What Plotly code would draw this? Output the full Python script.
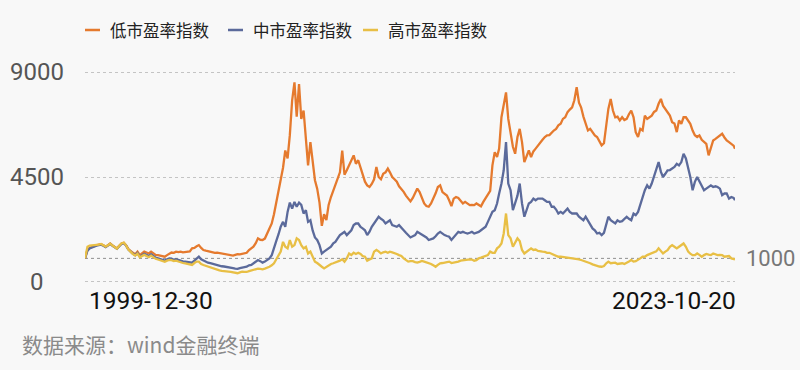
import pandas as pd
import plotly.graph_objects as go

# ---------------- data ----------------
series_names = ["低市盈率指数", "中市盈率指数", "高市盈率指数"]
series_colors = ["#e57a2e", "#5b6a9b", "#e8bf45"]

low_pe = [
    # 2000
    1000, 1360, 1450, 1500, 1540, 1570, 1590, 1610, 1560, 1500, 1570, 1640,
    # 2001
    1560, 1500, 1430, 1540, 1640, 1670, 1570, 1400, 1300, 1240, 1180, 1290,
    # 2002
    1140, 1200, 1290, 1250, 1210, 1290, 1200, 1150, 1140, 1110, 1090, 1070,
    # 2003
    1140, 1200, 1250, 1240, 1290, 1270, 1290, 1260, 1280, 1290, 1300, 1430,
    # 2004
    1450, 1520, 1570, 1450, 1360, 1330, 1300, 1280, 1260, 1240, 1250, 1230,
    # 2005
    1210, 1190, 1200, 1160, 1140, 1120, 1150, 1180, 1170, 1200, 1220, 1240,
    # 2006
    1360, 1430, 1500, 1650, 1860, 1800, 1790, 1850, 2070, 2300, 2500, 2900,
    # 2007
    3400, 3800, 4360, 4900, 5640, 5300, 6300, 7800, 8570, 7100, 8500, 7000,
    # 2008
    7360, 5930, 5000, 6000, 5300, 4360, 4000, 3400, 2400, 2900, 2650, 3300,
    # 2009
    3640, 3900, 4220, 4400, 4700, 5640, 4600, 4790, 5000, 5250, 5430, 5070,
    # 2010
    5220, 4900, 4600, 4300, 4140, 4070, 4200, 4400, 4930, 4500, 4400, 4640,
    # 2011
    4700, 4860, 4700, 4500, 4400, 4300, 4100, 4000, 3860, 3700, 3570, 3450,
    # 2012
    3600, 3800, 4000, 3850, 3600, 3360, 3250, 3220, 3360, 3550, 3800, 4070,
    # 2013
    4140, 3850, 3790, 3700, 3500, 3250, 3570, 3640, 3600, 3480, 3360, 3430,
    # 2014
    3360, 3290, 3300, 3290, 3360, 3300, 3240, 3430, 3600, 3720, 3900, 5000,
    # 2015
    5570, 5360, 5720, 7070, 7600, 8140, 7000, 6400, 5800, 5500, 6220, 6570,
    # 2016
    6000, 5140, 5430, 5640, 5360, 5600, 5720, 5860, 6000, 6100, 6220, 6290,
    # 2017
    6300, 6430, 6500, 6570, 6720, 6790, 7000, 7070, 7290, 7400, 7500, 7800,
    # 2018
    8360, 7700, 7500, 7100, 6800, 6500, 6570, 6430, 6290, 6220, 6000, 5860,
    # 2019
    5950, 6650, 7430, 7860, 7360, 7070, 7100, 6930, 7070, 6950, 7000, 7200,
    # 2020
    7360, 7070, 6430, 6220, 6570, 6500, 7140, 7000, 7070, 7140, 7300, 7360,
    # 2021
    7650, 7860, 7570, 7430, 7300, 7140, 6860, 6800, 6430, 6930, 6790, 7070,
    # 2022
    7070, 6900, 6790, 6500, 6300, 6220, 6290, 6100, 6000, 5930, 5430, 5790,
    # 2023
    6070, 6140, 6200, 6290, 6360, 6200, 6070, 6000, 5930, 5850, 5720,
]

mid_pe = [
    # 2000
    1000, 1330, 1430, 1480, 1520, 1550, 1570, 1590, 1540, 1480, 1550, 1620,
    # 2001
    1540, 1480, 1410, 1520, 1620, 1650, 1550, 1380, 1280, 1200, 1140, 1230,
    # 2002
    1070, 1140, 1200, 1150, 1100, 1180, 1090, 1030, 1000, 960, 930, 900,
    # 2003
    960, 1000, 990, 940, 960, 920, 900, 870, 860, 840, 830, 815,
    # 2004
    900, 1000, 1070, 960, 900, 850, 815, 790, 760, 740, 720, 700,
    # 2005
    660, 650, 640, 620, 600, 580, 560, 545, 580, 615, 620, 640,
    # 2006
    700, 715, 780, 860, 930, 880, 815, 860, 930, 1000, 1140, 1400,
    # 2007
    1750, 2050, 2360, 2570, 2360, 3000, 3400, 3140, 3430, 3220, 3400, 3300,
    # 2008
    2930, 3070, 2570, 2640, 2200, 1900, 1790, 1570, 1210, 1290, 1360, 1450,
    # 2009
    1500, 1650, 1710, 1860, 2000, 2070, 2140, 2000, 2100, 2210, 2430, 2500,
    # 2010
    2500, 2350, 2290, 2210, 2000, 2150, 2360, 2500, 2640, 2790, 2700, 2640,
    # 2011
    2500, 2580, 2640, 2430, 2400, 2360, 2430, 2300, 2210, 2100, 2000, 1900,
    # 2012
    1950, 2000, 2140, 2080, 2000, 1950, 1900, 1790, 1820, 1860, 1950, 2070,
    # 2013
    2140, 2060, 2000, 1960, 1930, 1790, 1900, 2000, 2140, 2100, 2140, 2100,
    # 2014
    2070, 2100, 2140, 2070, 2100, 2140, 2210, 2300, 2360, 2570, 2790, 3000,
    # 2015
    3070, 3360, 3790, 4220, 4790, 6000, 4220, 3930, 3070, 3360, 3700, 4220,
    # 2016
    3360, 2790, 3070, 3360, 3430, 3570, 3500, 3570, 3570, 3570, 3500, 3430,
    # 2017
    3430, 3220, 3220, 3100, 2930, 3000, 2930, 3050, 3140, 3000, 2930, 2930,
    # 2018
    2930, 2790, 2700, 2640, 2790, 2640, 2450, 2290, 2210, 2070, 2100, 2000,
    # 2019
    2100, 2500, 2790, 2640, 2550, 2500, 2640, 2570, 2600, 2710, 2790, 2700,
    # 2020
    2640, 2930, 2860, 3000, 3300, 3640, 3930, 4140, 4000, 4220, 4500, 4790,
    # 2021
    5140, 4720, 4500, 4640, 4790, 4800, 4860, 4930, 5070, 5000, 5140, 5500,
    # 2022
    5300, 4900, 4500, 3930, 4290, 4500, 4300, 4140, 3930, 4000, 4070, 4140,
    # 2023
    4070, 4100, 4070, 4000, 3720, 3790, 3790, 3570, 3640, 3600, 3500,
]

high_pe = [
    # 2000
    1000, 1500, 1550, 1570, 1560, 1580, 1590, 1620, 1560, 1500, 1560, 1630,
    # 2001
    1550, 1490, 1420, 1540, 1640, 1680, 1560, 1380, 1270, 1180, 1120, 1200,
    # 2002
    1050, 1100, 1150, 1100, 1050, 1120, 1030, 980, 950, 910, 880, 850,
    # 2003
    900, 930, 920, 880, 900, 860, 830, 800, 780, 760, 740, 715,
    # 2004
    800, 860, 860, 760, 715, 680, 640, 600, 560, 530, 500, 480,
    # 2005
    460, 440, 440, 430, 420, 400, 380, 360, 400, 430, 420, 415,
    # 2006
    450, 480, 500, 530, 560, 545, 530, 560, 590, 640, 700, 790,
    # 2007
    960, 1140, 1290, 1710, 1500, 1430, 1790, 1500, 1570, 1860, 1790, 1570,
    # 2008
    1430, 1500, 1210, 1290, 1070, 860, 800, 700, 640, 570, 640, 700,
    # 2009
    760, 790, 815, 860, 900, 960, 860, 1000, 1210, 1140, 1240, 1190,
    # 2010
    1240, 1190, 1100, 1070, 900, 950, 1000, 1290, 1360, 1300, 1210, 1260,
    # 2011
    1290, 1240, 1290, 1260, 1240, 1190, 1140, 1100, 1000, 930, 860, 880,
    # 2012
    880, 840, 815, 850, 890, 860, 830, 800, 760, 700, 640, 720,
    # 2013
    790, 800, 815, 830, 860, 800, 815, 830, 860, 900, 920, 930,
    # 2014
    940, 960, 950, 900, 920, 1000, 1030, 1070, 1100, 1140, 1290, 1240,
    # 2015
    1240, 1430, 1500, 1640, 2070, 2930, 2000, 1860, 1500, 1710, 1860, 1750,
    # 2016
    1360, 1210, 1290, 1360, 1430, 1360, 1380, 1320, 1290, 1290, 1280, 1240,
    # 2017
    1240, 1200, 1140, 1100, 1070, 1070, 1060, 1040, 1040, 1020, 1000, 1000,
    # 2018
    1000, 960, 930, 900, 860, 820, 790, 740, 700, 670, 650, 640,
    # 2019
    670, 790, 860, 790, 800, 815, 760, 780, 790, 760, 800, 860,
    # 2020
    930, 860, 880, 930, 1000, 1070, 1070, 1140, 1180, 1210, 1240, 1300,
    # 2021
    1430, 1290, 1210, 1290, 1350, 1500, 1570, 1500, 1430, 1500, 1560, 1640,
    # 2022
    1500, 1290, 1200, 1140, 1140, 1210, 1150, 1070, 1140, 1190, 1160, 1140,
    # 2023
    1210, 1180, 1140, 1150, 1140, 1070, 1080, 1100, 1000, 980, 960,
]

start_date = "1999-12-30"
end_date = "2023-10-20"
dates = list(pd.date_range("2000-01-01", "2023-10-01", freq="MS"))
dates[0] = pd.Timestamp(start_date)
dates.append(pd.Timestamp(end_date))

y_ticks = [0, 4500, 9000]
ref_value = 1000
source_text = "数据来源：wind金融终端"

# ---------------- figure ----------------
BG = "#f8f8f8"
W, H = 800, 370
L, R, T, B = 85, 65, 71, 87
PW, PH = W - L - R, H - T - B
Y_RANGE = [-60, 9060]


def px(x):
    return (x - L) / PW


def py(y):
    return (H - B - y) / PH


fig = go.Figure()
for name, vals, col in zip(series_names, [low_pe, mid_pe, high_pe], series_colors):
    fig.add_trace(go.Scatter(x=dates, y=vals, mode="lines", name=name,
                             line=dict(color=col, width=2.3), showlegend=False))

shapes = []
# reference line at 1000
shapes.append(dict(type="line", xref="paper", yref="y", x0=0, x1=1,
                   y0=ref_value, y1=ref_value, layer="below",
                   line=dict(color="#8f8f8f", width=1, dash="dot")))

annotations = []
# y tick labels (centered like reference)
for v in y_ticks:
    annotations.append(dict(x=px(37), y=v, xref="paper", yref="y", text=f"{v}",
                            showarrow=False, xanchor="center", yanchor="middle",
                            font=dict(size=24, color="#555555", family="Roboto, Noto Sans CJK SC")))
# x labels at ends
annotations.append(dict(x=px(87), y=py(300), xref="paper", yref="paper", text=start_date,
                        showarrow=False, xanchor="left", yanchor="middle",
                        font=dict(size=24.5, color="#111111", family="Roboto, Noto Sans CJK SC")))
annotations.append(dict(x=px(738), y=py(300), xref="paper", yref="paper", text=end_date,
                        showarrow=False, xanchor="right", yanchor="middle",
                        font=dict(size=24.5, color="#111111", family="Roboto, Noto Sans CJK SC")))
# reference value label
annotations.append(dict(x=px(744), y=ref_value, xref="paper", yref="y", text=f"{ref_value}",
                        showarrow=False, xanchor="left", yanchor="middle",
                        font=dict(size=22, color="#777777", family="Roboto, Noto Sans CJK SC")))
# source
annotations.append(dict(x=px(20), y=py(344), xref="paper", yref="paper", text=source_text,
                        showarrow=False, xanchor="left", yanchor="middle",
                        font=dict(size=21, color="#8a8a8a", family="Noto Sans CJK SC")))

# custom legend
leg_x = [85, 228, 363]
for i, (name, col) in enumerate(zip(series_names, series_colors)):
    x0 = leg_x[i]
    shapes.append(dict(type="line", xref="paper", yref="paper",
                       x0=px(x0), x1=px(x0 + 15), y0=py(30), y1=py(30),
                       line=dict(color=col, width=2.5)))
    annotations.append(dict(x=px(x0 + 23), y=py(30), xref="paper", yref="paper", text=name,
                            showarrow=False, xanchor="left", yanchor="middle",
                            font=dict(size=16.5, color="#222222", family="Noto Sans CJK SC")))

fig.update_layout(
    width=W, height=H,
    margin=dict(l=L, r=R, t=T, b=B),
    paper_bgcolor=BG, plot_bgcolor=BG,
    annotations=annotations, shapes=shapes,
    xaxis=dict(range=[pd.Timestamp(start_date), pd.Timestamp(end_date)], showgrid=False,
               showticklabels=False, zeroline=False, showline=False, ticks=""),
    yaxis=dict(range=Y_RANGE, tickvals=y_ticks, showticklabels=False,
               showgrid=True, gridcolor="#c4c4c4", griddash="dot", gridwidth=1,
               zeroline=False, showline=False, ticks=""),
)

fig.write_html("out.html", config={"displayModeBar": False},
               post_script="document.body.style.margin='0px';document.body.style.background='%s';" % BG)
